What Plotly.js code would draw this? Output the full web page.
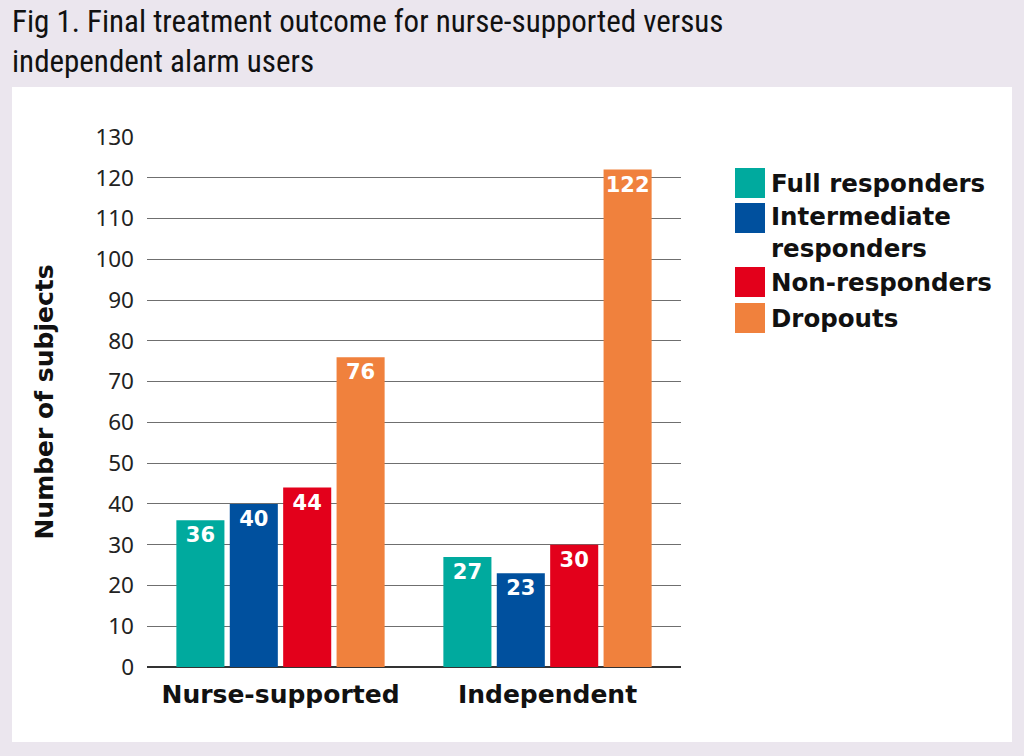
<!DOCTYPE html>
<html><head><meta charset="utf-8">
<script src="https://cdn.plot.ly/plotly-3.0.1.min.js"></script>
<style>
html,body{margin:0;padding:0;background:#ebe6ee;}
#panel{position:absolute;left:12px;top:87px;width:1000px;height:655px;background:#ffffff;}
#chart{position:absolute;left:0;top:0;width:1024px;height:756px;}
</style></head>
<body>
<div id="panel"></div>
<div id="chart"></div>
<script>
const groups = ["Nurse-supported", "Independent"];
const seriesNames = ["Full responders", "Intermediate<br>responders", "Non-responders", "Dropouts"];
const fullResponders = [36, 27];
const intermediateResponders = [40, 23];
const nonResponders = [44, 30];
const dropouts = [76, 122];
const yTicks = [0,10,20,30,40,50,60,70,80,90,100,110,120,130];
const colors = ["#00aa9e", "#00509e", "#e3001b", "#f0813d"];
const titleText = "Fig 1. Final treatment outcome for nurse-supported versus<br>independent alarm users";

const seriesValues = [fullResponders, intermediateResponders, nonResponders, dropouts];
const boldFont = "'DejaVu Sans', sans-serif";
const traces = seriesValues.map((vals, i) => ({
  type: "bar", x: groups, y: vals, name: seriesNames[i],
  marker: {color: colors[i]},
  text: vals.map(String), textposition: "inside", insidetextanchor: "end", textangle: 0,
  textfont: {color: "#ffffff", size: 21, family: boldFont, weight: "bold"},
  constraintext: "none", cliponaxis: false, showlegend: false,
  hoverinfo: "x+y"
}));

// plot area in pixels
const L = 147, R = 681, T = 137, B = 667;
const px = x => (x - L) / (R - L);
const py = y => (B - y) / (B - T);

// custom legend (square swatches + bold labels)
const legendRows = [
  {sq: 168, ty: 183},
  {sq: 203, ty: 232},
  {sq: 267, ty: 282},
  {sq: 303, ty: 318}
];
const shapes = legendRows.map((r, i) => ({
  type: "rect", xref: "paper", yref: "paper",
  x0: px(735), x1: px(765), y0: py(r.sq + 30), y1: py(r.sq),
  fillcolor: colors[i], line: {width: 0}
}));
const annotations = legendRows.map((r, i) => ({
  xref: "paper", yref: "paper", x: px(769), y: py(r.ty),
  xanchor: "left", yanchor: "middle", align: "left", showarrow: false,
  text: seriesNames[i],
  font: {family: boldFont, size: 24.5, color: "#111111", weight: "bold"}
}));
// chart title (annotation so both lines sit inside the page)
annotations.push({
  xref: "paper", yref: "paper", x: px(10), y: py(1),
  xanchor: "left", yanchor: "top", align: "left", showarrow: false,
  text: titleText,
  font: {family: "'Roboto Condensed', 'Liberation Sans Narrow', 'Roboto', sans-serif", size: 31, color: "#111111"}
});

const layout = {
  width: 1024, height: 756,
  paper_bgcolor: "rgba(0,0,0,0)", plot_bgcolor: "rgba(0,0,0,0)",
  margin: {l: L, r: 1024 - R, t: T, b: 756 - B, pad: 0},
  barmode: "group", bargap: 0.2, bargroupgap: 0.1,
  xaxis: {
    type: "category", range: [-0.5, 1.5], showgrid: false, zeroline: false,
    showline: false, ticks: "", ticklabelstandoff: 10,
    tickfont: {family: boldFont, size: 25, color: "#111111", weight: "bold"}
  },
  yaxis: {
    range: [0, 130], tickvals: yTicks, ticktext: yTicks.map(String),
    showgrid: true, gridcolor: "#6f6f6f", gridwidth: 1,
    zeroline: true, zerolinecolor: "#333333", zerolinewidth: 1.5,
    showline: false, ticks: "", ticklabelstandoff: 12,
    tickfont: {family: "'Noto Sans', sans-serif", size: 22.5, color: "#222222"},
    title: {text: "Number of subjects", standoff: 34,
      font: {family: boldFont, size: 25, color: "#111111", weight: "bold"}}
  },
  shapes: shapes, annotations: annotations,
  font: {family: boldFont}
};

Plotly.newPlot("chart", traces, layout, {displayModeBar: false, staticPlot: true});
</script>
</body></html>
